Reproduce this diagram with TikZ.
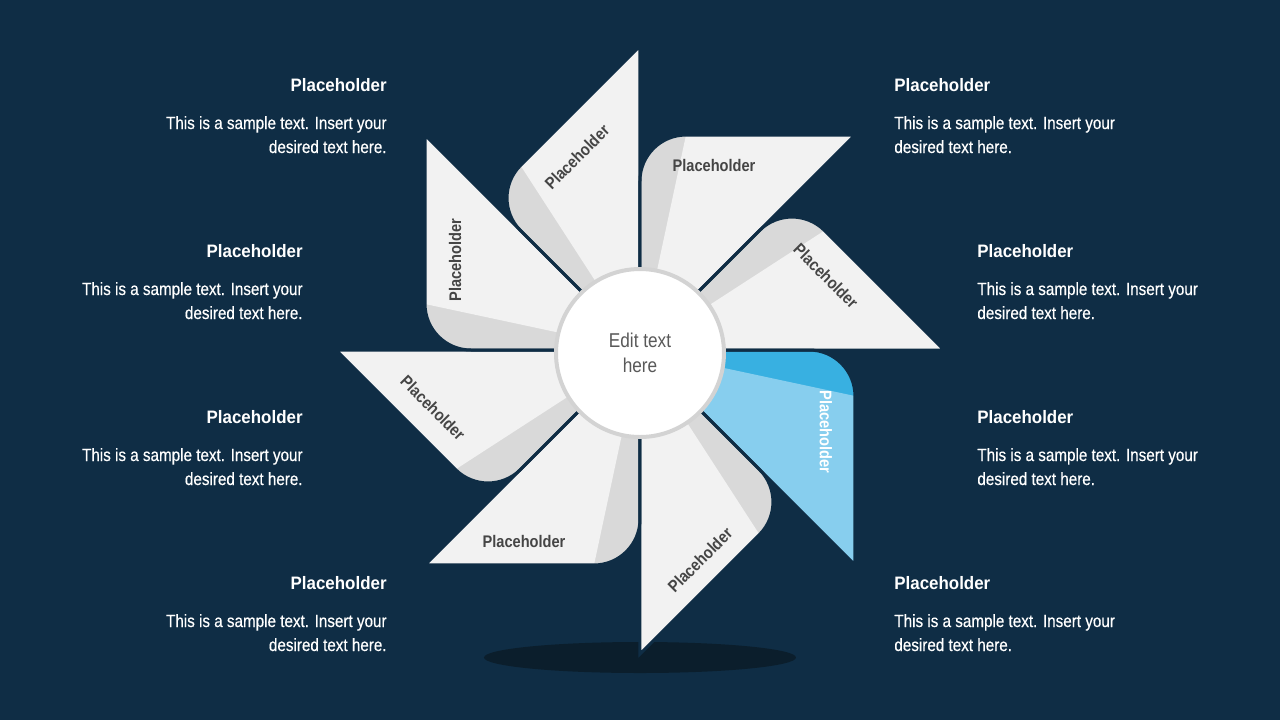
\documentclass[tikz,border=0pt]{standalone}
\usepackage{fontspec}
\setmainfont{Liberation Sans}
\newfontfamily\titlef[FakeStretch=0.94]{Liberation Sans}
\newfontfamily\bodyf[FakeStretch=0.86,FakeBold=0.4]{Liberation Sans}
\newfontfamily\hubf[FakeStretch=0.86]{Liberation Sans}
\newfontfamily\labelf[FakeStretch=0.87]{Liberation Sans}
\usetikzlibrary{calc}
\definecolor{bg}{HTML}{0F2D45}
\definecolor{shadowc}{HTML}{0B1E2C}
\definecolor{gL}{HTML}{F2F2F2}
\definecolor{gD}{HTML}{D9D9D9}
\definecolor{bL}{HTML}{87CEEE}
\definecolor{bD}{HTML}{38B0E1}
\definecolor{ringgray}{HTML}{D3D3D3}
\definecolor{lblgray}{HTML}{454545}
\definecolor{hubtext}{HTML}{595959}
\def\bladeR{46}
\def\bladeL{304}
\tikzset{
  ttl/.style={font=\titlef\bfseries\fontsize{9}{11}\selectfont, text=white, inner sep=0pt},
  bdy/.style={font=\bodyf\fontsize{8.85}{10}\selectfont, text=white, inner sep=0pt},
  lbl/.style={font=\labelf\bfseries\fontsize{8.4}{10}\selectfont, text=lblgray, inner sep=0pt},
  gapline/.style={draw=bg, line width=1.5pt, line join=miter},
  hub/.style={circle, fill=white, draw=ringgray, line width=2pt, minimum size=84pt, inner sep=0pt,
    align=center, text=hubtext, font=\hubf\fontsize{10}{12.5}\selectfont}
}
\begin{document}
\begin{tikzpicture}[x=0.5pt,y=0.5pt]
\useasboundingbox (-640,-370) rectangle (640,350);
\fill[bg] (-640,-370) rectangle (640,350);
% shadow
\fill[shadowc] (0,-307.5) ellipse [x radius=156, y radius=15.5];
\coordinate (C) at (0,0);
% blades
\foreach \k/\dk/\lt in {0/gD/gL,1/gD/gL,2/gD/gL,3/bD/bL,4/gD/gL,5/gD/gL,6/gD/gL,7/gD/gL}{
  \pgfmathsetmacro\th{90-45*\k}
  \coordinate (T\k) at (\th:\bladeL);
  \coordinate (P\k) at (\th+45:\bladeL*0.70711);
  \coordinate (Q\k) at ($(P\k)+(\th-45:\bladeR)$);
  \coordinate (B\k) at ($(P\k)+(\th+225:\bladeR)$);
  \fill[\dk] (C) -- (T\k) -- (Q\k) .. controls ($(Q\k)!0.552!(P\k)$) and ($(B\k)!0.552!(P\k)$) .. (B\k) -- cycle;
  \fill[\lt] (C) -- (T\k) -- (Q\k) -- cycle;
}
\foreach \k in {0,...,7}{
  \draw[gapline] (C) -- (T\k) -- (Q\k) .. controls ($(Q\k)!0.552!(P\k)$) and ($(B\k)!0.552!(P\k)$) .. (B\k) -- cycle;
}
% hub
\node[hub] (hubnode) at (0,-3) {Edit text\\here};
% blade labels
\node[lbl, rotate=45] (lab0) at (-63,193) {Placeholder};
\node[lbl] (lab1) at (74,185) {Placeholder};
\node[lbl, rotate=-45] (lab2) at (186,74) {Placeholder};
\node[lbl, rotate=-90, text=white] (lab3) at (186,-82) {Placeholder};
\node[lbl, rotate=45] (lab4) at (60,-210) {Placeholder};
\node[lbl] (lab5) at (-116,-191) {Placeholder};
\node[lbl, rotate=-45] (lab6) at (-207,-58) {Placeholder};
\node[lbl, rotate=90] (lab7) at (-185,90) {Placeholder};
% text blocks
\foreach \i/\xl/\xr in {0/-253/254, 1/-337/337, 2/-337/337, 3/-253/254}{
  \node[ttl, anchor=base east] (lt\i) at (\xl, 258.5-166*\i) {Placeholder};
  \node[bdy, anchor=base east] (la\i) at (\xl, 221-166*\i) {This is a sample text. Insert your};
  \node[bdy, anchor=base east] (lb\i) at (\xl, 197-166*\i) {desired text here.};
  \node[ttl, anchor=base west] (rt\i) at (\xr, 258.5-166*\i) {Placeholder};
  \node[bdy, anchor=base west] (ra\i) at (\xr, 221-166*\i) {This is a sample text. Insert your};
  \node[bdy, anchor=base west] (rb\i) at (\xr, 197-166*\i) {desired text here.};
}
\end{tikzpicture}
\end{document}
